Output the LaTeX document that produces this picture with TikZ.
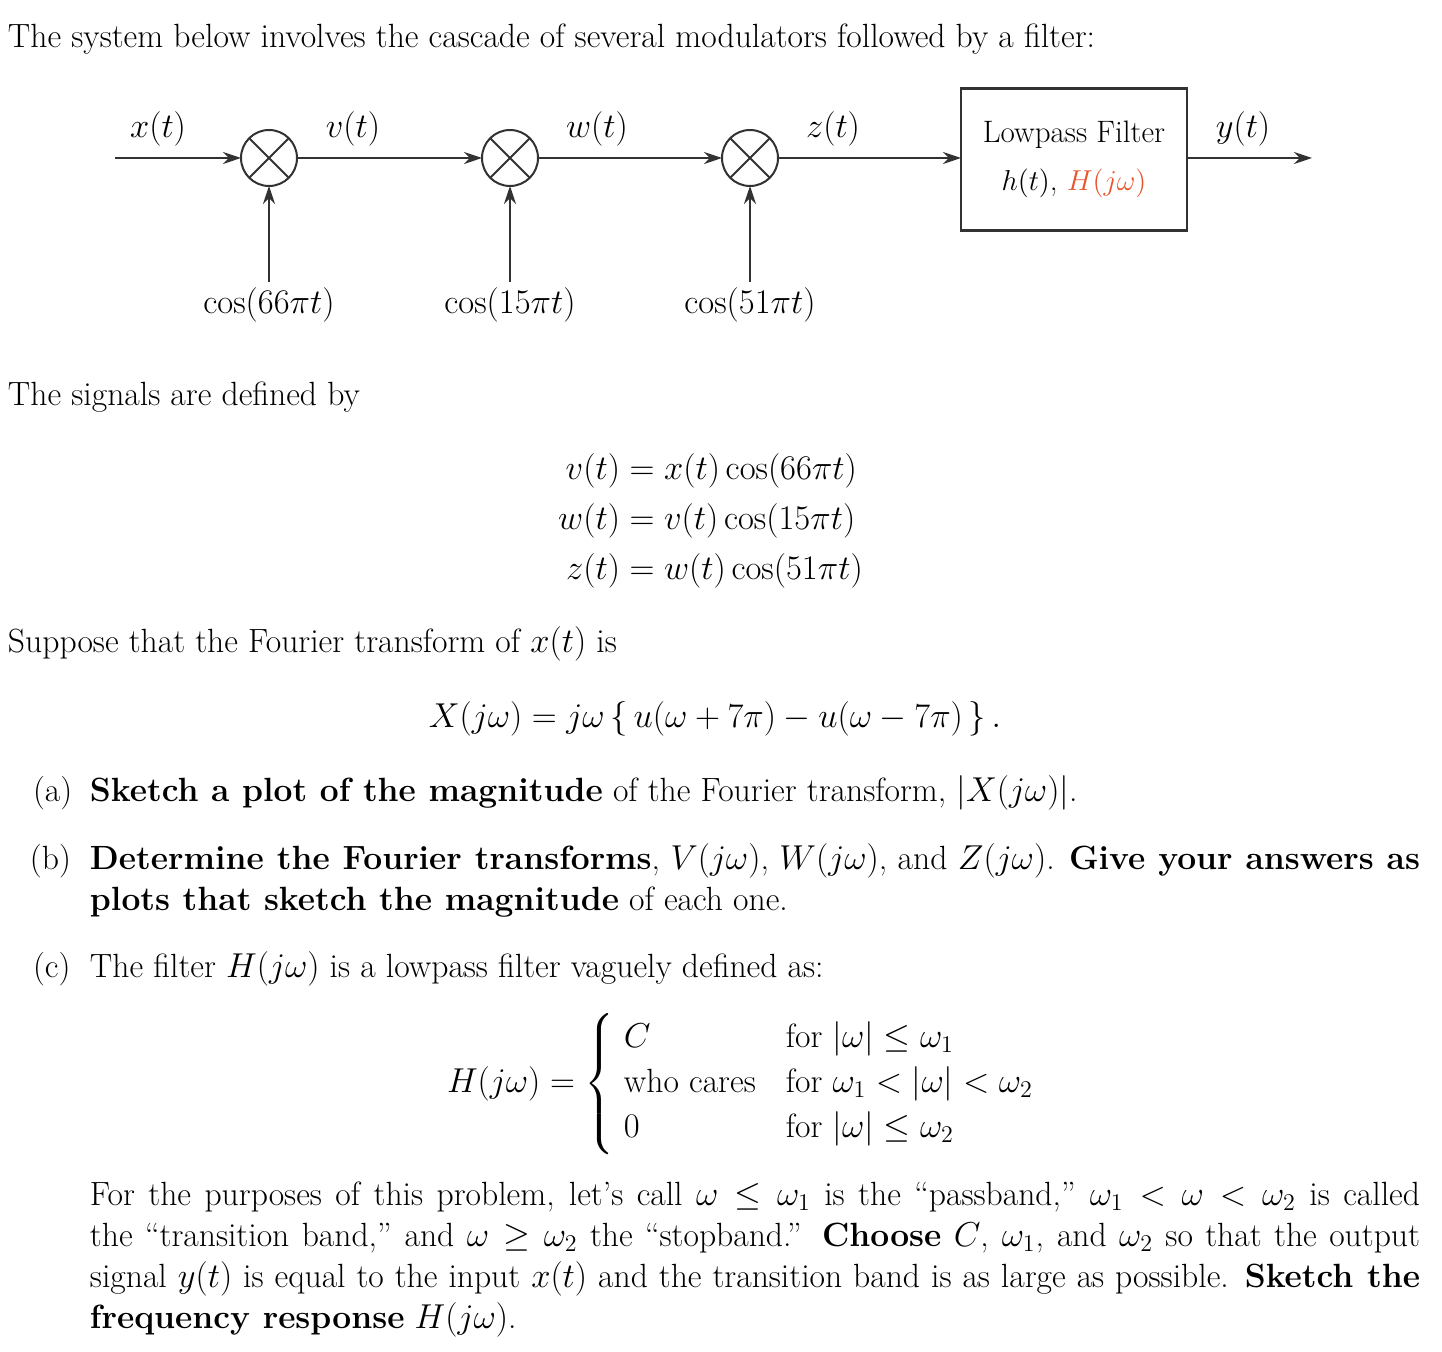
\documentclass[tikz,border=0pt]{standalone}
\usepackage{amsmath,amssymb}
\usetikzlibrary{arrows.meta}
\definecolor{hred}{RGB}{232,84,44}
\definecolor{ln}{RGB}{50,50,50}
\begin{document}
\begin{tikzpicture}[x=0.5pt,y=-0.5pt,
  every node/.style={inner sep=0pt,outer sep=0pt,font=\fontsize{16.8}{20.5}\selectfont},
  txt/.style={anchor=base west},
  sig/.style={draw=ln,line width=0.7pt,-{Stealth[length=9pt,width=6pt]}},
  mult/.style={draw=ln,circle,line width=1pt,minimum size=28pt},
  lbl/.style={anchor=base}]
\useasboundingbox (0,0) rectangle (1442,1352);
% title
\node[txt] (t1) at (8,48) {The system below involves the cascade of several modulators followed by a filter:};
% diagram
\coordinate (in) at (115,158);
\node[mult] (m1) at (269,158) {}; \draw[ln,line width=1pt] (m1.north west)--(m1.south east) (m1.north east)--(m1.south west);
\node[mult] (m2) at (510,158) {}; \draw[ln,line width=1pt] (m2.north west)--(m2.south east) (m2.north east)--(m2.south west);
\node[mult] (m3) at (750,158) {}; \draw[ln,line width=1pt] (m3.north west)--(m3.south east) (m3.north east)--(m3.south west);
\node[draw=ln,line width=1.2pt,minimum width=113pt,minimum height=71pt,align=center,font=\fontsize{15.5}{20}\selectfont] (f) at (1074,159.5) {Lowpass Filter\\[4pt]$h(t)$, \textcolor{hred}{$H(j\omega)$}};
\coordinate (out) at (1312,158);
\draw[sig] (in)--(m1); \draw[sig] (m1)--(m2); \draw[sig] (m2)--(m3);
\draw[sig] (m3)--(f.west|-m3); \draw[sig] (f.east|-m3)--(out);
\coordinate (c1) at (269,282); \coordinate (c2) at (510,282); \coordinate (c3) at (750,282);
\draw[sig] (c1)--(m1); \draw[sig] (c2)--(m2); \draw[sig] (c3)--(m3);
\node[lbl] (lx) at (158,138) {$x(t)$};
\node[lbl] (lv) at (353,138) {$v(t)$};
\node[lbl] (lw) at (597,138) {$w(t)$};
\node[lbl] (lz) at (833,138) {$z(t)$};
\node[lbl] (ly) at (1243,138) {$y(t)$};
\node[lbl] (k1) at (269,314) {$\cos(66\pi t)$};
\node[lbl] (k2) at (510,314) {$\cos(15\pi t)$};
\node[lbl] (k3) at (750,314) {$\cos(51\pi t)$};
% text
\node[txt] (t2) at (8,406) {The signals are defined by};
\node[anchor=base east] (e1) at (620,480) {$v(t)$};
\node[txt] (e1r) at (620,480) {$\;=x(t)\cos(66\pi t)$};
\node[anchor=base east] (e2) at (620,530) {$w(t)$};
\node[txt] (e2r) at (620,530) {$\;=v(t)\cos(15\pi t)$};
\node[anchor=base east] (e3) at (620,580) {$z(t)$};
\node[txt] (e3r) at (620,580) {$\;=w(t)\cos(51\pi t)$};
\node[txt] (t3) at (8,653) {Suppose that the Fourier transform of $x(t)$ is};
\node[lbl] (xe) at (715,728) {$X(j\omega)=j\omega\,\{\,u(\omega+7\pi)-u(\omega-7\pi)\,\}\,.$};
\node[txt] (a) at (33,802) {(a)};
\node[txt] (at) at (90,802) {\textbf{Sketch a plot of the magnitude} of the Fourier transform, $|X(j\omega)|$.};
\node[txt] (b) at (30,870) {(b)};
\node[txt,text width=665pt,align=justify] (bt) at (90,870) {\textbf{Determine the Fourier transforms}, $V(j\omega)$, $W(j\omega)$, and $Z(j\omega)$. \textbf{Give your answers as plots that sketch the magnitude} of each one.};
\node[txt] (c) at (33,978) {(c)};
\node[txt] (ct) at (90,978) {The filter $H(j\omega)$ is a lowpass filter vaguely defined as:};
\node[anchor=west] (h) at (447,1084) {$H(j\omega)=\left\{\begin{array}{@{\;}l@{\hspace{15pt}}l}C & \text{for } |\omega|\le\omega_1\\[2pt] \text{who cares} & \text{for } \omega_1<|\omega|<\omega_2\\[2pt] 0 & \text{for } |\omega|\le\omega_2\end{array}\right.$};
\node[txt,text width=665pt,align=justify] (p) at (90,1205) {For the purposes of this problem, let's call $\omega\le\omega_1$ is the ``passband,'' $\omega_1<\omega<\omega_2$ is called the ``transition band,'' and $\omega\ge\omega_2$ the ``stopband.'' \textbf{Choose} $C$, $\omega_1$, and $\omega_2$ so that the output signal $y(t)$ is equal to the input $x(t)$ and the transition band is as large as possible. \textbf{Sketch the frequency response} $H(j\omega)$.};
\end{tikzpicture}
\end{document}
